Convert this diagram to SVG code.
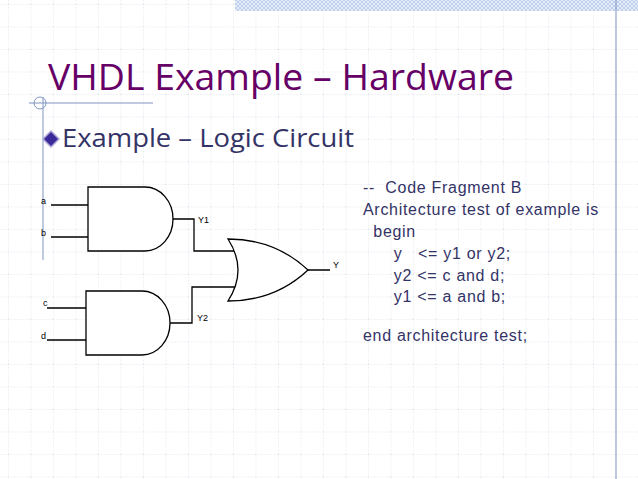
<svg xmlns="http://www.w3.org/2000/svg" width="638" height="479" viewBox="0 0 638 479">
<defs>
<pattern id="grid" width="22.5" height="22.5" patternUnits="userSpaceOnUse" x="8" y="4">
<path d="M0 0H22.5M0 0V22.5" fill="none" stroke="#d8dde8" stroke-width="1" stroke-dasharray="1.5 1.5"/>
</pattern>
<pattern id="hatch" width="4" height="4" patternUnits="userSpaceOnUse">
<rect width="4" height="4" fill="#e4ecf8"/><path d="M0 0L4 4M4 0L0 4" stroke="#b8c8e8" stroke-width="0.8"/>
</pattern>
<style>
.g{fill:#fff;stroke:#000;stroke-width:1.3}
.w{fill:none;stroke:#000;stroke-width:1.3}
.l{font-family:"Liberation Sans",Arial,sans-serif;font-size:9px;fill:#000}
.c{font-family:"Liberation Sans",Arial,sans-serif;font-size:16px;letter-spacing:0.7px;fill:#333366;white-space:pre}
</style>
</defs>
<rect width="638" height="479" fill="#fff"/>
<rect width="638" height="479" fill="url(#grid)"/>
<rect x="235" y="0" width="403" height="11" fill="url(#hatch)"/>
<line x1="616" y1="0" x2="616" y2="479" stroke="#7f95c0" stroke-width="1"/>
<line x1="29" y1="103" x2="153" y2="103" stroke="#7f95c0" stroke-width="1"/>
<line x1="43" y1="97" x2="43" y2="260" stroke="#7f95c0" stroke-width="1"/>
<circle cx="40" cy="103" r="6" fill="none" stroke="#7f95c0" stroke-width="1"/>
<text x="48" y="90" font-family="Open Sans,'Liberation Sans',sans-serif" font-size="37" fill="#660066" textLength="466" lengthAdjust="spacingAndGlyphs">VHDL Example – Hardware</text>
<path d="M51 131L59 139L51 147L43 139Z" fill="#3a2a9a" stroke="#b0a8d8" stroke-width="1.5"/>
<text x="62" y="147" font-family="Open Sans,'Liberation Sans',sans-serif" font-size="26" fill="#333366" textLength="292" lengthAdjust="spacingAndGlyphs">Example – Logic Circuit</text>
<g id="connectors">
<path class="w" d="M51 205H88M51 237H88M172 219H194V251H236M47 308H86M47 340H86M170 323H192V287H235M308 270H330"/>
</g>
<g id="and1"><path class="g" d="M88 187H145A28 32 0 0 1 145 251H88Z"/></g>
<g id="and2"><path class="g" d="M86 291H142A28 32 0 0 1 142 355H86Z"/></g>
<g id="or1"><path class="g" d="M228 239Q275 239 308 270Q275 301 228 301Q248 270 228 239Z"/></g>
<text class="l" x="41" y="204">a</text>
<text class="l" x="41" y="236">b</text>
<text class="l" x="43" y="306">c</text>
<text class="l" x="41" y="339">d</text>
<text class="l" x="198" y="223">Y1</text>
<text class="l" x="197" y="321">Y2</text>
<text class="l" x="333" y="268">Y</text>
<g id="code" xml:space="preserve">
<text class="c" x="363" y="193">--  Code Fragment B</text>
<text class="c" x="363" y="215">Architecture test of example is</text>
<text class="c" x="363" y="237">  begin</text>
<text class="c" x="363" y="259">      y   &lt;= y1 or y2;</text>
<text class="c" x="363" y="281">      y2 &lt;= c and d;</text>
<text class="c" x="363" y="302">      y1 &lt;= a and b;</text>
<text class="c" x="363" y="341">end architecture test;</text>
</g>
</svg>
